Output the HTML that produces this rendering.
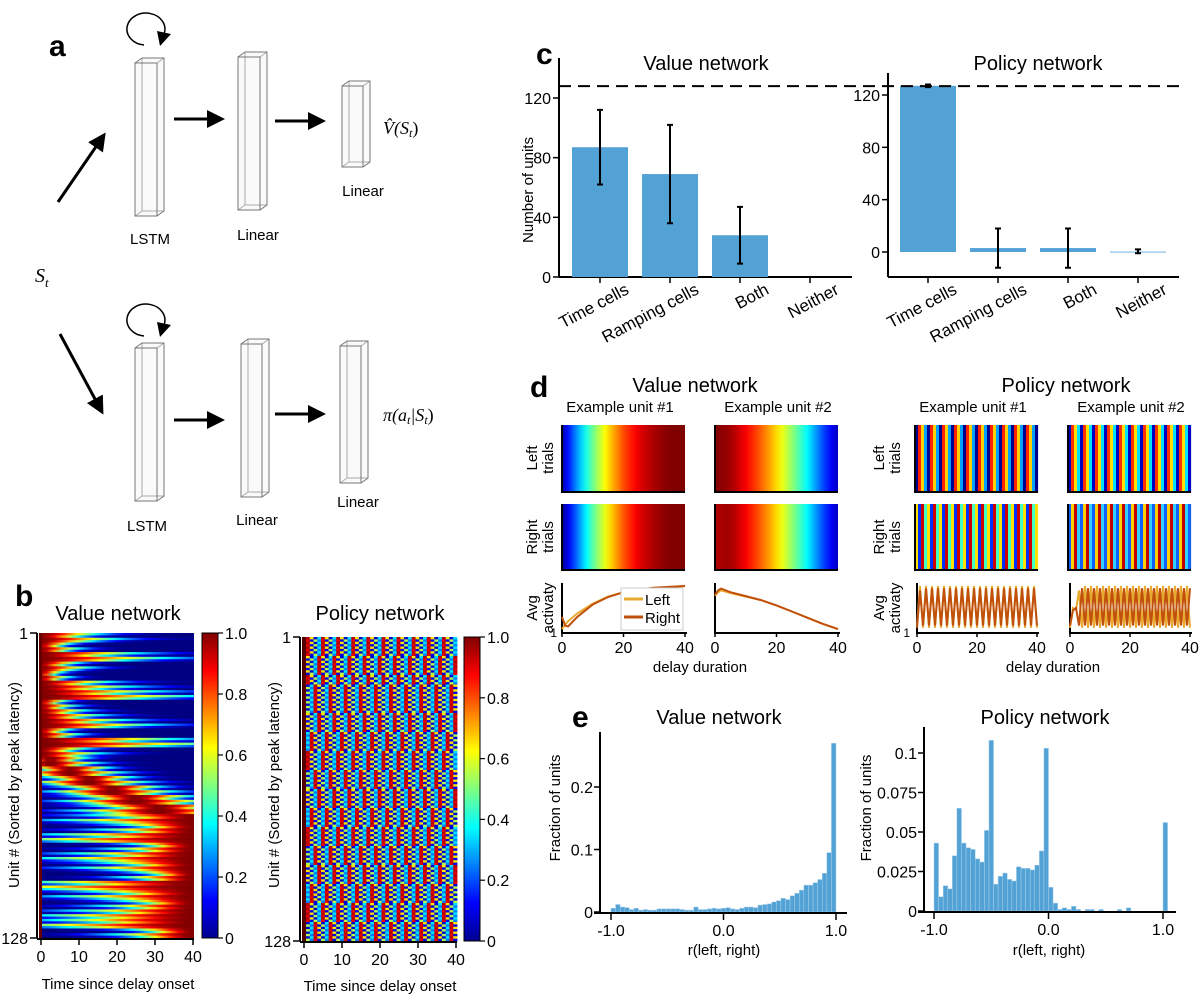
<!DOCTYPE html>
<html><head><meta charset="utf-8"><style>
html,body{margin:0;padding:0;background:#fff;}
svg{display:block;font-family:"Liberation Sans",Arial,sans-serif;}
</style></head><body>
<svg id="fig" width="1200" height="997" viewBox="0 0 1200 997" xmlns="http://www.w3.org/2000/svg">
<defs>
 <linearGradient id="jetv" x1="0" y1="1" x2="0" y2="0">
  <stop offset="0" stop-color="#00008f"/><stop offset="0.125" stop-color="#0000ff"/><stop offset="0.375" stop-color="#00ffff"/><stop offset="0.625" stop-color="#ffff00"/><stop offset="0.875" stop-color="#ff0000"/><stop offset="1" stop-color="#800000"/>
 </linearGradient>
 <marker id="ah" markerWidth="6" markerHeight="6" refX="5" refY="3" orient="auto" markerUnits="strokeWidth"><path d="M0,0 L6,3 L0,6 z" fill="#000"/></marker>
</defs>

<g>
 <text x="49" y="56" font-size="30" font-weight="bold">a</text>
 <g id="boxes"></g>
 <path d="M144,45 A19,16 0 1 1 164,34" fill="none" stroke="#000" stroke-width="1.5"/>
 <path d="M157,31 L171,34 L160,46 z" fill="#000"/>
 <path d="M144,336 A19,16 0 1 1 164,325" fill="none" stroke="#000" stroke-width="1.5"/>
 <path d="M157,322 L171,325 L160,337 z" fill="#000"/>
 <line x1="58" y1="202" x2="104" y2="135" stroke="#000" stroke-width="3" marker-end="url(#ah)"/>
 <line x1="60" y1="334" x2="102" y2="412" stroke="#000" stroke-width="3" marker-end="url(#ah)"/>
 <line x1="174" y1="119" x2="222" y2="119" stroke="#000" stroke-width="3" marker-end="url(#ah)"/>
 <line x1="275" y1="121" x2="323" y2="121" stroke="#000" stroke-width="3" marker-end="url(#ah)"/>
 <line x1="174" y1="420" x2="222" y2="420" stroke="#000" stroke-width="3" marker-end="url(#ah)"/>
 <line x1="275" y1="414" x2="323" y2="414" stroke="#000" stroke-width="3" marker-end="url(#ah)"/>
 <text x="150" y="244" font-size="15" text-anchor="middle">LSTM</text>
 <text x="258" y="240" font-size="15" text-anchor="middle">Linear</text>
 <text x="363" y="196" font-size="15" text-anchor="middle">Linear</text>
 <text x="147" y="531" font-size="15" text-anchor="middle">LSTM</text>
 <text x="257" y="525" font-size="15" text-anchor="middle">Linear</text>
 <text x="358" y="507" font-size="15" text-anchor="middle">Linear</text>
 <text x="383" y="134" font-size="18" font-family="Liberation Serif,serif" font-style="italic">V̂(S<tspan font-size="12" dy="3">t</tspan><tspan dy="-3" font-style="normal">)</tspan></text>
 <text x="383" y="421" font-size="18" font-family="Liberation Serif,serif" font-style="italic">π(a<tspan font-size="12" dy="3">t</tspan><tspan dy="-3">|S</tspan><tspan font-size="12" dy="3">t</tspan><tspan dy="-3" font-style="normal">)</tspan></text>
 <text x="35" y="282" font-size="20" font-family="Liberation Serif,serif" font-style="italic">S<tspan font-size="13" dy="5">t</tspan></text>
</g>

<g id="panelb">
 <text x="15" y="606" font-size="30" font-weight="bold">b</text>
 <text x="118" y="620" font-size="20" text-anchor="middle">Value network</text>
 <text x="380" y="620" font-size="20" text-anchor="middle">Policy network</text>
 <text transform="translate(19,785) rotate(-90)" font-size="15" text-anchor="middle">Unit #  (Sorted by peak latency)</text>
 <text transform="translate(279,785) rotate(-90)" font-size="15" text-anchor="middle">Unit #  (Sorted by peak latency)</text>
 <text x="118" y="989" font-size="15" text-anchor="middle">Time since delay onset</text>
 <text x="380" y="991" font-size="15" text-anchor="middle">Time since delay onset</text>
</g>

<g id="panelc">
 <text x="536" y="64" font-size="30" font-weight="bold">c</text>
 <text x="706" y="70" font-size="20" text-anchor="middle">Value network</text>
 <text x="1038" y="70" font-size="20" text-anchor="middle">Policy network</text>
 <text transform="translate(533,190) rotate(-90)" font-size="15" text-anchor="middle">Number of units</text>
</g>

<g id="paneld">
 <text x="530" y="397" font-size="30" font-weight="bold">d</text>
 <text x="695" y="392" font-size="20" text-anchor="middle">Value network</text>
 <text x="1066" y="392" font-size="20" text-anchor="middle">Policy network</text>
 <text x="620" y="412" font-size="15" text-anchor="middle">Example unit #1</text>
 <text x="778" y="412" font-size="15" text-anchor="middle">Example unit #2</text>
 <text x="973" y="412" font-size="15" text-anchor="middle">Example unit #1</text>
 <text x="1131" y="412" font-size="15" text-anchor="middle">Example unit #2</text>
 <text transform="translate(537,458) rotate(-90)" font-size="15" text-anchor="middle">Left</text>
 <text transform="translate(553,458) rotate(-90)" font-size="15" text-anchor="middle">trials</text>
 <text transform="translate(537,537) rotate(-90)" font-size="15" text-anchor="middle">Right</text>
 <text transform="translate(553,537) rotate(-90)" font-size="15" text-anchor="middle">trials</text>
 <text transform="translate(537,608) rotate(-90)" font-size="15" text-anchor="middle">Avg</text>
 <text transform="translate(553,608) rotate(-90)" font-size="15" text-anchor="middle">activaty</text>
 <text transform="translate(884,458) rotate(-90)" font-size="15" text-anchor="middle">Left</text>
 <text transform="translate(900,458) rotate(-90)" font-size="15" text-anchor="middle">trials</text>
 <text transform="translate(884,537) rotate(-90)" font-size="15" text-anchor="middle">Right</text>
 <text transform="translate(900,537) rotate(-90)" font-size="15" text-anchor="middle">trials</text>
 <text transform="translate(884,608) rotate(-90)" font-size="15" text-anchor="middle">Avg</text>
 <text transform="translate(900,608) rotate(-90)" font-size="15" text-anchor="middle">activaty</text>
 <text x="557" y="637" font-size="12" text-anchor="end">1</text>
 <text x="910" y="637" font-size="12" text-anchor="end">1</text>
 <text x="700" y="672" font-size="15" text-anchor="middle">delay duration</text>
 <text x="1053" y="672" font-size="15" text-anchor="middle">delay duration</text>
</g>

<g id="panele">
 <text x="572" y="727" font-size="30" font-weight="bold">e</text>
 <text x="719" y="724" font-size="20" text-anchor="middle">Value network</text>
 <text x="1045" y="724" font-size="20" text-anchor="middle">Policy network</text>
 <text transform="translate(560,808) rotate(-90)" font-size="15" text-anchor="middle">Fraction of units</text>
 <text transform="translate(871,808) rotate(-90)" font-size="15" text-anchor="middle">Fraction of units</text>
 <text x="724" y="955" font-size="15" text-anchor="middle">r(left, right)</text>
 <text x="1049" y="955" font-size="15" text-anchor="middle">r(left, right)</text>
</g>
</svg>
<script>
const cCategories=['Time cells','Ramping cells','Both','Neither'];
const cValueMeans=[87,69,28,0];
const cValueErr=[25,33,19,0];
const cPolicyMeans=[127,3,3,0.5];
const cPolicyErr=[1,15,15,1.5];
const cTicks=[0,40,80,120];
const cTotalUnits=128;

const bTicksX=[0,10,20,30,40];
const bColorbarTicks=[0,0.2,0.4,0.6,0.8,1.0];
const bValuePeaks=[0,0,0,0,0,0,0,0,0,0,0,0,0,3,8,13,19,25,31,40,40,40,40,40,40,40,40,40,40,40,40,40];
const bValueWidths=[15,8,25,10,6,18,30,7,12,22,8,35,12,9,10,11,12,14,16,26,18,36,16,30,22,14,42,26,18,30,36,16];
const bPolicyPhase=[0,0,1,1,0,2,2,2,1,1,3,3,0,0,2,2,1,1,3,3,0,0,2,2,1,1,3,3,0,0,2,2];
const bPolicyCycleA=[0.95,0.65,0.08,0.35];
const bPolicyCycleB=[0.9,0.1,0.55,0.25];

const dTimes=[0,5,10,15,20,25,30,35,40];
const dValU1Left=[0.05,0.28,0.48,0.66,0.8,0.9,0.96,1,1];
const dValU1Right=[0.02,0.24,0.46,0.64,0.79,0.9,0.96,1,1];
const dValU2Left=[1,0.97,0.88,0.78,0.66,0.52,0.37,0.2,0.06];
const dValU2Right=[0.95,0.97,0.88,0.78,0.66,0.52,0.37,0.2,0.06];
const dAvgTimes=[0,1,2,5,10,15,20,25,30,35,40];
const dAvgU1Left=[0.02,0.12,0.2,0.38,0.6,0.76,0.86,0.92,0.96,0.98,1];
const dAvgU1Right=[0.3,0.1,0.08,0.3,0.58,0.75,0.86,0.92,0.96,0.98,1];
const dAvgU2Left=[0.78,0.86,0.9,0.84,0.76,0.68,0.56,0.42,0.28,0.14,0.02];
const dAvgU2Right=[0.8,0.9,0.94,0.86,0.77,0.68,0.56,0.42,0.28,0.14,0.02];
const dPolU1Left=[0.1,1,0.05,1,0.05,1,0.05,1,0.05,1,0.05,1,0.05,1,0.05,1,0.05,1,0.05,1,0.05,1,0.05,1,0.05,1,0.05,1,0.05,1,0.05,1,0.05,1,0.05,1,0.05,1,0.05,1,0.05];
const dPolU1Right=[0.05,0.9,0.1,0.95,0.1,0.95,0.1,0.95,0.1,0.95,0.1,0.95,0.1,0.95,0.1,0.95,0.1,0.95,0.1,0.95,0.1,0.95,0.1,0.95,0.1,0.95,0.1,0.95,0.1,0.95,0.1,0.95,0.1,0.95,0.1,0.95,0.1,0.95,0.1,0.95,0.1];
const dPolU2Left=[0.05,0.5,0.45,0.9,0.05,1,0.05,1,0.05,1,0.05,1,0.05,1,0.05,1,0.05,1,0.05,1,0.05,1,0.05,1,0.05,1,0.05,1,0.05,1,0.05,1,0.05,1,0.05,1,0.05,1,0.05,1,0.05];
const dPolU2Right=[0.1,0.45,0.5,0.1,0.95,0.1,0.95,0.1,0.95,0.1,0.95,0.1,0.95,0.1,0.95,0.1,0.95,0.1,0.95,0.1,0.95,0.1,0.95,0.1,0.95,0.1,0.95,0.1,0.95,0.1,0.95,0.1,0.95,0.1,0.95,0.1,0.95,0.1,0.95,0.1,0.95];
const dTicks=[0,20,40];

const eValueFrac=[0.006,0.012,0.008,0.007,0.004,0.006,0.003,0.004,0.003,0.003,0.005,0.005,0.005,0.005,0.005,0.004,0.003,0.003,0.008,0.004,0.004,0.005,0.006,0.005,0.006,0.007,0.005,0.004,0.006,0.008,0.008,0.007,0.011,0.012,0.013,0.016,0.018,0.022,0.02,0.026,0.03,0.035,0.043,0.043,0.047,0.052,0.062,0.095,0.27];
const ePolicyFrac=[0.043,0.009,0.016,0.014,0.035,0.065,0.043,0.040,0.039,0.033,0.031,0.051,0.108,0.017,0.022,0.024,0.020,0.019,0.028,0.027,0.027,0.026,0.029,0.038,0.103,0.015,0.005,0.001,0.002,0.001,0.003,0.001,0,0.001,0.001,0,0.001,0,0,0,0.001,0,0.002,0,0,0,0,0,0,0,0.056];
const eValueTicks=[0,0.1,0.2];
const ePolicyTicks=[0,0.025,0.05,0.075,0.1];
const eXTicks=[-1,0,1];

const NS='http://www.w3.org/2000/svg';
const svg=document.getElementById('fig');
const defs=svg.querySelector('defs');
function mk(tag,attrs,parent){const e=document.createElementNS(NS,tag);for(const k in attrs)e.setAttribute(k,attrs[k]);(parent||svg).appendChild(e);return e;}
function clamp(v){return Math.max(0,Math.min(1,v));}
function jet(v){v=clamp(v);const r=clamp(1.5-Math.abs(4*v-3)),g=clamp(1.5-Math.abs(4*v-2)),b=clamp(1.5-Math.abs(4*v-1));return 'rgb('+Math.round(r*255)+','+Math.round(g*255)+','+Math.round(b*255)+')';}
function interp(xs,ys,x){for(let i=0;i<xs.length-1;i++){if(x<=xs[i+1]){const t=(x-xs[i])/(xs[i+1]-xs[i]);return ys[i]+t*(ys[i+1]-ys[i]);}}return ys[ys.length-1];}
let gid=0;

const boxG=document.getElementById('boxes');
const boxes=[[135,63,22,153],[238,57,22,153],[342,86,21,81],[135,348,22,153],[241,344,21,153],[340,346,21,137]];
boxes.forEach((b,i)=>{
  const g=mk('g',{fill:'#f6f6f6','fill-opacity':'0.6',stroke:'#777','stroke-width':'1'},boxG);
  
  
  const [x,y,w,h]=b,dx=7,dy=-5;
  mk('path',{d:`M${x},${y} L${x+dx},${y+dy} L${x+w+dx},${y+dy} L${x+w+dx},${y+h+dy} L${x+w},${y+h} L${x},${y+h} Z`},g);
  mk('rect',{x:x,y:y,width:w,height:h,fill:'none'},g);
  mk('path',{d:`M${x+w},${y} L${x+w+dx},${y+dy} M${x+dx},${y+dy} L${x+dx},${y+h+dy} L${x+w+dx},${y+h+dy} M${x+dx},${y+h+dy} L${x},${y+h}`,fill:'none','stroke-opacity':'0.6'},g);
});

const pb=document.getElementById('panelb');
function bAxes(x0,x1,y0,y1,cbx,prefix){
  const xs=t=>x0+2+(x1-x0-3)*t/40;
  mk('line',{x1:x0-2,y1:y0,x2:x0-2,y2:y1,stroke:'#000','stroke-width':2},pb);
  [[1,y0],[128,y1]].forEach(([lab,y])=>{
    mk('line',{x1:x0-9,y1:y,x2:x0-2,y2:y,stroke:'#000','stroke-width':1.5},pb);
    const t=mk('text',{x:x0-11,y:y+6,'font-size':16,'text-anchor':'end'},pb);t.textContent=lab;
    
    
  });
  mk('line',{x1:x0-2,y1:y1+1,x2:x1,y2:y1+1,stroke:'#000','stroke-width':2},pb);
  bTicksX.forEach(v=>{
    mk('line',{x1:xs(v),y1:y1,x2:xs(v),y2:y1+7,stroke:'#000','stroke-width':1.5},pb);
    const t=mk('text',{x:xs(v),y:y1+24,'font-size':16,'text-anchor':'middle'},pb);t.textContent=v;
    
    
  });
  const cb=mk('rect',{x:cbx,y:y0,width:16,height:y1-y0,fill:'url(#jetv)',stroke:'#000','stroke-width':1},pb);
  
  
  bColorbarTicks.forEach(v=>{
    const y=y1-(y1-y0)*v;
    mk('line',{x1:cbx+16,y1:y,x2:cbx+21,y2:y,stroke:'#000','stroke-width':1.2},pb);
    const t=mk('text',{x:cbx+23,y:y+6,'font-size':16},pb);t.textContent=(v===0?'0':v.toFixed(1));
    
    
  });
}
(function(){
  const x0=39,x1=194,y0=633,y1=938,rh=(y1-y0)/128;
  const wf=[1,0.7,1.3,0.9];
  for(let r=0;r<128;r++){
    const g=Math.floor(r/4),pk=bValuePeaks[g],w=bValueWidths[g]*wf[r%4];
    const id='vr'+(gid++);
    const lg=mk('linearGradient',{id:id,x1:0,y1:0,x2:1,y2:0},defs);
    for(let t=0;t<=40;t+=2){
      const d=(t-pk)/w;const v=Math.exp(-d*d);
      mk('stop',{offset:t/40,'stop-color':jet(v)},lg);
    }
    const rc=mk('rect',{x:x0,y:y0+r*rh,width:x1-x0,height:rh+0.6,fill:'url(#'+id+')'},pb);
    
    
  }
  mk('rect',{x:x0,y:y0,width:3,height:y1-y0,fill:'#600'},pb);
  bAxes(x0,x1,y0,y1,202,'b-value');
})();
(function(){
  const x0=302,x1=457,y0=637,y1=941,rh=(y1-y0)/128,cw=(x1-x0-4)/40;
  for(let r=0;r<128;r++){
    const ph=bPolicyPhase[Math.floor(r/4)];
    const cyc=(r%2)?bPolicyCycleB:bPolicyCycleA;
    for(let c=0;c<40;c++){
      const v=cyc[(c+ph)%4];
      const rc=mk('rect',{x:x0+4+c*cw,y:y0+r*rh,width:cw+0.4,height:rh+0.4,fill:jet(v)},pb);
      
      
    }
  }
  mk('rect',{x:x0,y:y0,width:4,height:y1-y0,fill:'#500'},pb);
  bAxes(x0,x1,y0,y1,464,'b-policy');
})();

const pc=document.getElementById('panelc');
function cChart(cfg){
  const ys=v=>cfg.y0-v*cfg.ppu;
  mk('line',{x1:cfg.ax,y1:cfg.top,x2:cfg.ax,y2:cfg.axisY,stroke:'#000','stroke-width':2},pc);
  mk('line',{x1:cfg.ax,y1:cfg.axisY,x2:cfg.xEnd,y2:cfg.axisY,stroke:'#000','stroke-width':2},pc);
  cTicks.forEach(v=>{
    mk('line',{x1:cfg.ax-6,y1:ys(v),x2:cfg.ax,y2:ys(v),stroke:'#000','stroke-width':1.5},pc);
    const t=mk('text',{x:cfg.ax-8,y:ys(v)+6,'font-size':16,'text-anchor':'end'},pc);t.textContent=v;
    
    
  });
  cCategories.forEach((cat,i)=>{
    const xc=cfg.x0+i*70;
    const m=cfg.means[i],e=cfg.err[i];
    if(m>0){
      const bar=mk('rect',{x:xc-28,y:Math.min(ys(m),cfg.y0),width:56,height:Math.max(Math.abs(ys(m)-cfg.y0),1.5),fill:m<1?'#9ccbea':'#52a2d6'},pc);
      
      
    }
    if(e>0){
      const eb=mk('path',{d:`M${xc},${ys(m+e)} L${xc},${ys(m-e)} M${xc-3},${ys(m+e)} L${xc+3},${ys(m+e)} M${xc-3},${ys(m-e)} L${xc+3},${ys(m-e)}`,stroke:'#000','stroke-width':2,fill:'none'},pc);
      
      
    }
    mk('line',{x1:xc,y1:cfg.axisY,x2:xc,y2:cfg.axisY+6,stroke:'#000','stroke-width':1.5},pc);
    const t=mk('text',{transform:`translate(${xc+30},${cfg.axisY+16}) rotate(-28)`,'font-size':17,'text-anchor':'end'},pc);t.textContent=cat;
    
    
  });
  return ys;
}
const cvY=cChart({prefix:'c-value',ax:559,top:58,axisY:277,xEnd:852,y0:277,ppu:179/120,x0:600,means:cValueMeans,err:cValueErr});
cChart({prefix:'c-policy',ax:888,top:73,axisY:277,xEnd:1179,y0:252,ppu:157/120,x0:928,means:cPolicyMeans,err:cPolicyErr});
const dl=mk('line',{x1:559,y1:cvY(cTotalUnits),x2:1180,y2:cvY(cTotalUnits),stroke:'#000','stroke-width':2,'stroke-dasharray':'12,7'},pc);



const pd=document.getElementById('paneld');
function gradRow(x,y,w,h,vals,name){
  const id='dg'+(gid++);
  const lg=mk('linearGradient',{id:id,x1:0,y1:0,x2:1,y2:0},defs);
  for(let t=0;t<=40;t+=2){mk('stop',{offset:t/40,'stop-color':jet(interp(dTimes,vals,t))},lg);}
  const r=mk('rect',{x:x,y:y,width:w,height:h,fill:'url(#'+id+')'},pd);
  
  
  mk('path',{d:`M${x},${y} L${x},${y+h} L${x+w},${y+h}`,stroke:'#000','stroke-width':2,fill:'none'},pd);
}
const rows=[[425,67],[504,66]];
gradRow(562,425,123,67,dValU1Left,'d-value-unit1-left-heatmap');
gradRow(562,504,123,66,dValU1Right,'d-value-unit1-right-heatmap');
gradRow(715,425,123,67,dValU2Left,'d-value-unit2-left-heatmap');
gradRow(715,504,123,66,dValU2Right,'d-value-unit2-right-heatmap');
const stripeSets=[['#00008f','#ff2000','#ffd000','#00a0ff'],['#ffe000','#0030ff','#d00000','#40ffc0'],['#0000c0','#ff3000','#ffe000','#00e0ff'],['#1060ff','#ffd000','#c00000','#30d0ff']];
[[915,425,0],[915,504,1],[1068,425,2],[1068,504,3]].forEach(([x,y,k],i)=>{
  const cols=stripeSets[k];
  for(let s=0;s<41;s++){
    const r=mk('rect',{x:x+s*3,y:y,width:3.1,height:rows[i%2][1],fill:cols[s%4]},pd);
    
    
  }
  mk('path',{d:`M${x},${y} L${x},${y+rows[i%2][1]} L${x+123},${y+rows[i%2][1]}`,stroke:'#000','stroke-width':2,fill:'none'},pd);
});
function avgPlot(x0,w,times,L,R,prefix){
  const y0=583,y1=633;
  const xs=t=>x0+w*t/40,ys=v=>y1-3-(y1-y0-6)*v;
  mk('path',{d:`M${x0},${y0} L${x0},${y1} L${x0+w+2},${y1}`,stroke:'#000','stroke-width':2,fill:'none'},pd);
  dTicks.forEach(v=>{
    mk('line',{x1:xs(v),y1:y1,x2:xs(v),y2:y1+4,stroke:'#000','stroke-width':1.5},pd);
    const t=mk('text',{x:xs(v),y:y1+20,'font-size':16,'text-anchor':'middle'},pd);t.textContent=v;
    
    
  });
  [[L,'#e8ab30','left'],[R,'#c0500c','right']].forEach(([arr,col,nm])=>{
    const tt=times||arr.map((_,i)=>i);
    const d=arr.map((v,i)=>(i?'L':'M')+xs(tt[i]).toFixed(1)+','+ys(v).toFixed(1)).join(' ');
    const p=mk('path',{d:d,stroke:col,'stroke-width':2,fill:'none'},pd);
    
    
  });
}
avgPlot(562,123,dAvgTimes,dAvgU1Left,dAvgU1Right,'d-value-unit1-avg');
avgPlot(715,123,dAvgTimes,dAvgU2Left,dAvgU2Right,'d-value-unit2-avg');
avgPlot(917,120,null,dPolU1Left,dPolU1Right,'d-policy-unit1-avg');
avgPlot(1070,120,null,dPolU2Left,dPolU2Right,'d-policy-unit2-avg');
(function(){
  const lg=mk('g',{},pd);
  
  
  mk('rect',{x:621,y:588,width:62,height:42,fill:'#fff',stroke:'#ccc'},lg);
  mk('line',{x1:624,y1:599,x2:643,y2:599,stroke:'#e8ab30','stroke-width':3},lg);
  mk('line',{x1:624,y1:617,x2:643,y2:617,stroke:'#c0500c','stroke-width':3},lg);
  const a=mk('text',{x:645,y:605,'font-size':15},lg);a.textContent='Left';
  const b=mk('text',{x:645,y:623,'font-size':15},lg);b.textContent='Right';
})();

const pe=document.getElementById('panele');
function hist(cfg){
  const xs=r=>cfg.xa+(r+1)/2*(cfg.xb-cfg.xa);
  const ys=f=>cfg.y0-f*cfg.ppu;
  const bw=(cfg.xb-cfg.xa)/(cfg.nb);
  cfg.vals.forEach((f,i)=>{
    const r=-1+i*2/cfg.nb;
    const b=mk('rect',{x:xs(r),y:ys(f),width:bw,height:f*cfg.ppu,fill:'#52a2d6',stroke:'#a9d0ec','stroke-width':0.5},pe);
    
    
  });
  mk('line',{x1:cfg.ax,y1:cfg.top,x2:cfg.ax,y2:cfg.y0+1,stroke:'#000','stroke-width':2},pe);
  mk('line',{x1:cfg.ax-6,y1:cfg.y0+1,x2:cfg.xEnd,y2:cfg.y0+1,stroke:'#000','stroke-width':2},pe);
  cfg.yt.forEach(v=>{
    mk('line',{x1:cfg.ax-6,y1:ys(v),x2:cfg.ax,y2:ys(v),stroke:'#000','stroke-width':1.5},pe);
    const t=mk('text',{x:cfg.ax-7,y:ys(v)+6,'font-size':16,'text-anchor':'end'},pe);t.textContent=String(v);
    
    
  });
  eXTicks.forEach(v=>{
    mk('line',{x1:xs(v),y1:cfg.y0+1,x2:xs(v),y2:cfg.y0+8,stroke:'#000','stroke-width':1.5},pe);
    const t=mk('text',{x:xs(v),y:cfg.y0+24,'font-size':16,'text-anchor':'middle'},pe);t.textContent=v.toFixed(1);
    
    
  });
}
hist({prefix:'e-value',vals:eValueFrac,nb:49,xa:611,xb:836,y0:912,ppu:625,ax:600,top:732,xEnd:847,yt:eValueTicks});
hist({prefix:'e-policy',vals:ePolicyFrac,nb:50,xa:934,xb:1163,y0:911,ppu:1580,ax:924,top:727,xEnd:1176,yt:ePolicyTicks});
</script>
</body></html>
